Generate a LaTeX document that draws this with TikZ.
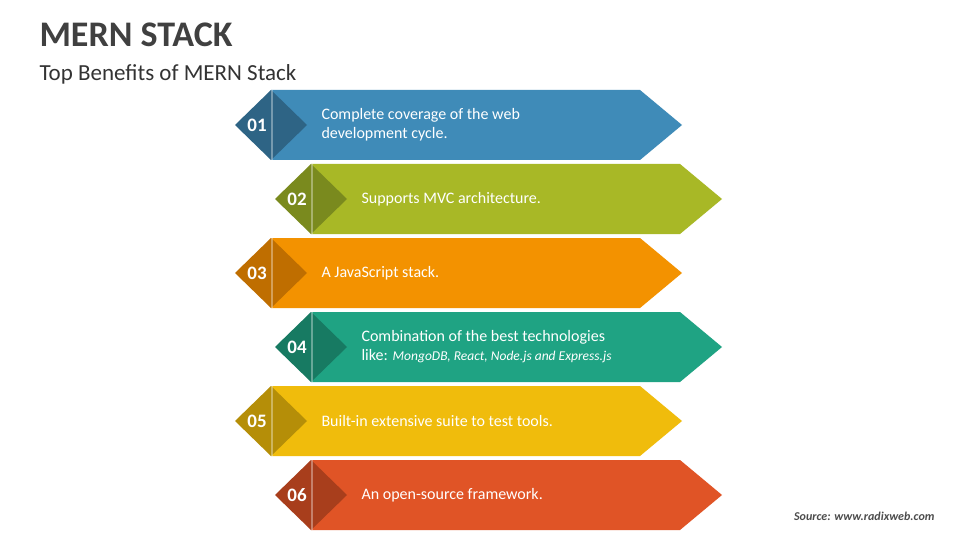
\documentclass[tikz,border=0pt]{standalone}
\usepackage{fontspec}
\setmainfont{Carlito}
\begin{document}
\begin{tikzpicture}[x=1pt,y=-1pt,
  txt/.style={anchor=west,text=white,font=\fontsize{16}{19}\selectfont,align=left},
  num/.style={text=white,font=\bfseries\fontsize{19}{21}\selectfont}]
\useasboundingbox[fill=white] (0,0) rectangle (960,540);
\node[anchor=west,font=\bfseries\fontsize{36}{40}\selectfont,text=black!75] (title) at (36,35) {MERN STACK};
\node[anchor=west,font=\fontsize{23}{27}\selectfont,text=black!80] (sub) at (36,74) {Top Benefits of MERN Stack};
\def\band#1#2#3#4#5#6{%
 \begin{scope}[shift={(#1,#2)}]
  \fill[#3] (36,-35) -- (405,-35) -- (447,0) -- (405,35) -- (36,35) -- cycle;
  \fill[#4] (0,0) -- (36,-35) -- (72,0) -- (36,35) -- cycle;
  \draw[white,opacity=0.35,line width=2pt] (37,-35) -- (37,35);
  \node[num] at (22,0) {#5};
  \node[txt] at (83,0) {#6};
 \end{scope}}
\definecolor{c1}{HTML}{3F8BB8}\definecolor{d1}{HTML}{2E6485}
\definecolor{c2}{HTML}{A8B826}\definecolor{d2}{HTML}{7A8A1E}
\definecolor{c3}{HTML}{F39200}\definecolor{d3}{HTML}{BF6E00}
\definecolor{c4}{HTML}{1FA383}\definecolor{d4}{HTML}{177A62}
\definecolor{c5}{HTML}{F0BC0C}\definecolor{d5}{HTML}{B58E08}
\definecolor{c6}{HTML}{E05426}\definecolor{d6}{HTML}{A83E1C}
\band{235}{125}{c1}{d1}{01}{Complete coverage of the web\\development cycle.}
\band{275}{199}{c2}{d2}{02}{Supports MVC architecture.}
\band{235}{273}{c3}{d3}{03}{A JavaScript stack.}
\band{275}{347}{c4}{d4}{04}{Combination of the best technologies\\like: {\fontsize{13.5}{19}\selectfont\itshape MongoDB, React, Node.js and Express.js}}
\band{235}{421}{c5}{d5}{05}{Built-in extensive suite to test tools.}
\band{275}{495}{c6}{d6}{06}{An open-source framework.}
\node[anchor=east,font=\bfseries\itshape\fontsize{12}{14}\selectfont,text=black!70] (src) at (938,516) {Source: www.radixweb.com};
\end{tikzpicture}
\end{document}
